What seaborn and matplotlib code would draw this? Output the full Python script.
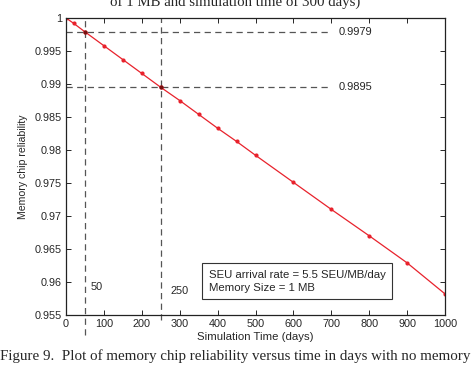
import matplotlib
matplotlib.use("Agg")
import matplotlib.pyplot as plt
import seaborn as sns
import pandas as pd
import numpy as np

days = [0, 20, 50, 100, 150, 200, 250, 300, 350, 400, 450, 500, 600, 700, 800, 900, 1000]
reliability = [1.0, 0.9992, 0.9979, 0.9958, 0.9937, 0.9916, 0.9895, 0.9875, 0.9854,
               0.9833, 0.9813, 0.9792, 0.9751, 0.9710, 0.9670, 0.9629, 0.9582]
ref_days = [50, 250]
ref_values = [0.9979, 0.9895]
x_ticks = list(range(0, 1001, 100))
y_ticks = [0.955, 0.96, 0.965, 0.97, 0.975, 0.98, 0.985, 0.99, 0.995, 1.0]

sns.set_style("ticks")
plt.rcParams['font.family'] = ['Liberation Sans', 'DejaVu Sans']

fig = plt.figure(figsize=(4.74, 3.68), dpi=100)
ax = fig.add_axes([66/474, 1-315/368, (445-66)/474, (315-18)/368])

df = pd.DataFrame({"days": days, "rel": reliability})
red = "#e8222c"
sns.lineplot(data=df, x="days", y="rel", ax=ax, color=red, linewidth=0.9,
             marker="o", markersize=3, markeredgewidth=0, markerfacecolor=red)

dash_col = "#555555"
for d, v in zip(ref_days, ref_values):
    ax.plot([0, 692], [v, v], ls=(0, (5, 3.5)), color=dash_col, lw=0.9, zorder=1)
    ax.text(720, v, f"{v:.4f}", fontsize=8, va="center", ha="left")
ax.plot([ref_days[0], ref_days[0]], [0.9519, 1.0], ls=(0, (5, 3.5)), color=dash_col,
        lw=0.9, zorder=1, clip_on=False)
ax.plot([ref_days[1], ref_days[1]], [0.9542, 1.0], ls=(0, (5, 3.5)), color=dash_col,
        lw=0.9, zorder=1, clip_on=False)
ax.plot(ref_days, ref_values, "o", color="#7a1010", markersize=3, markeredgewidth=0, zorder=4)
ax.text(65, 0.9592, "50", fontsize=7.8, va="center", ha="left")
ax.text(275, 0.9586, "250", fontsize=7.8, va="center", ha="left")

ax.text(376, 0.9601, "SEU arrival rate = 5.5 SEU/MB/day\nMemory Size = 1 MB",
        fontsize=8.2, va="center", ha="left", linespacing=1.3,
        bbox=dict(boxstyle="square,pad=0.6", fc="white", ec="#333333", lw=0.8))

ax.set_xlim(0, 1000)
ax.set_ylim(0.955, 1.0)
ax.set_xticks(x_ticks)
ax.set_yticks(y_ticks)
ax.set_yticklabels([f"{t:g}" for t in y_ticks])
ax.tick_params(direction="in", top=True, right=True, labelsize=7.8, length=3.5,
               width=0.7, pad=3)
for s in ax.spines.values():
    s.set_visible(True)
    s.set_linewidth(0.9)
    s.set_color("#222222")
ax.set_xlabel("Simulation Time (days)", fontsize=8.2, labelpad=2)
ax.set_ylabel("Memory chip reliability", fontsize=7.6, labelpad=4.5)

fig.text(0.496, 1 - 6/368, "of 1 MB and simulation time of 300 days)", ha="center", va="baseline",
         fontsize=10.7, family=["Liberation Serif"])
fig.text(0.0, 12/368, "Figure 9.  Plot of memory chip reliability versus time in days with no memory",
         ha="left", va="center", fontsize=10.8, family=["Liberation Serif"])

fig.savefig("out.png", dpi=100)
